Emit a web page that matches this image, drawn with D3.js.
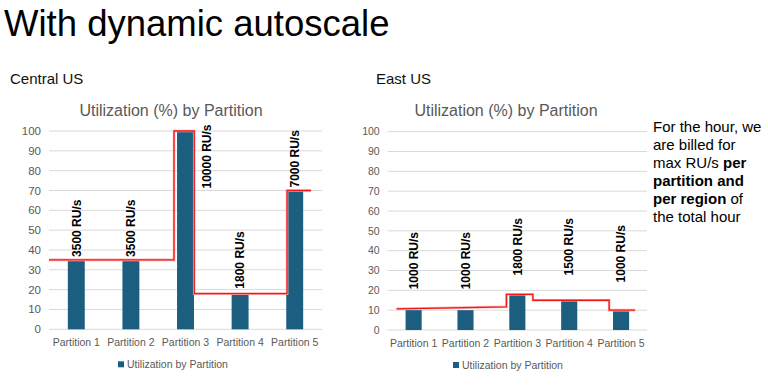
<!DOCTYPE html>
<html>
<head>
<meta charset="utf-8">
<script src="https://cdn.jsdelivr.net/npm/d3@7"></script>
<style>
  body { margin: 0; background: #fff; }
  text { font-family: "Liberation Sans", Arial, sans-serif; }
</style>
</head>
<body>
<script>
// data
var partitions = ["Partition 1", "Partition 2", "Partition 3", "Partition 4", "Partition 5"];
var yTicks = [0, 10, 20, 30, 40, 50, 60, 70, 80, 90, 100];

var centralUtil = [35, 35, 100, 18, 70];
var centralRU = ["3500 RU/s", "3500 RU/s", "10000 RU/s", "1800 RU/s", "7000 RU/s"];
var centralLabelAt = [36.5, 36.5, 71, 20.5, 71.5];
// max RU/s line: [partition position, utilization]
var centralMax = [[0, 35], [2.29, 35], [2.29, 100], [2.66, 100], [2.66, 18], [4.36, 18], [4.36, 70], [4.8, 70]];

var eastUtil = [10, 10, 18, 15, 10];
var eastRU = ["1000 RU/s", "1000 RU/s", "1800 RU/s", "1500 RU/s", "1000 RU/s"];
var eastLabelAt = [20.5, 20.5, 27.5, 27.5, 24];
var eastMax = [[0.17, 10.7], [2.29, 11.7], [2.29, 18], [2.8, 18], [2.8, 15], [4.27, 15], [4.27, 10], [4.77, 10]];

var svg = d3.select("body").append("svg").attr("width", 768).attr("height", 389);

svg.append("text").attr("x", 4).attr("y", 36)
  .style("font-size", "36.5px").style("fill", "#000")
  .text("With dynamic autoscale");

function drawChart(o) {
  var g = svg.append("g");
  var x = d3.scaleBand().domain(partitions).range([o.left, o.right])
    .paddingInner(0.69).paddingOuter(0.345);
  var xl = d3.scaleLinear().domain([0, 5]).range([o.left, o.right]);
  var y = d3.scaleLinear().domain([0, 100]).range([o.bottom, o.top]);

  g.append("text").attr("x", o.regionX).attr("y", 84)
    .style("font-size", "15px").style("fill", "#111").text(o.region);

  g.append("text").attr("x", o.titleX).attr("y", 116)
    .attr("text-anchor", "middle")
    .style("font-size", "16px").style("fill", "#595959")
    .text("Utilization (%) by Partition");

  // grid
  g.selectAll(".grid").data(yTicks).enter().append("line")
    .attr("x1", o.left).attr("x2", o.right)
    .attr("y1", function(d){ return y(d); }).attr("y2", function(d){ return y(d); })
    .style("stroke", "#d9d9d9").style("stroke-width", 1);

  g.selectAll(".ytick").data(yTicks).enter().append("text")
    .attr("x", o.left - 8).attr("y", function(d){ return y(d); })
    .attr("dy", "0.35em").attr("text-anchor", "end")
    .style("font-size", o.tickSize + "px").style("fill", "#595959")
    .text(function(d){ return d; });

  g.selectAll(".xtick").data(partitions).enter().append("text")
    .attr("x", function(d){ return x(d) + x.bandwidth() / 2; })
    .attr("y", o.bottom + 17)
    .attr("text-anchor", "middle")
    .style("font-size", "10.5px").style("fill", "#595959")
    .text(function(d){ return d; });

  g.selectAll(".bar").data(o.util).enter().append("rect")
    .attr("x", function(d, i){ return x(partitions[i]); })
    .attr("y", function(d){ return y(d); })
    .attr("width", x.bandwidth())
    .attr("height", function(d){ return y(0) - y(d); })
    .style("fill", "#1b5e80");

  // max RU/s line
  var line = d3.line().x(function(d){ return xl(d[0]); }).y(function(d){ return y(d[1]); });
  g.append("path").attr("d", line(o.max))
    .style("fill", "none").style("stroke", "#ffb0b0").style("stroke-width", 2.6);
  g.append("path").attr("d", line(o.max))
    .style("fill", "none").style("stroke", "#f01818").style("stroke-width", 1.3);

  // rotated RU/s labels
  g.selectAll(".lbl").data(o.ru).enter().append("text")
    .attr("transform", function(d, i){
      var cx = x(partitions[i]) + x.bandwidth() / 2;
      var v = o.labelAt[i];
      if (v < o.util[i]) cx = x(partitions[i]) + x.bandwidth() + 13;
      return "translate(" + cx + "," + y(v) + ") rotate(-90)";
    })
    .attr("dy", "0.35em")
    .style("font-size", "12px").style("font-weight", "bold").style("fill", "#000")
    .text(function(d){ return d; });

  // legend
  var lg = g.append("g");
  lg.append("rect").attr("x", o.legendX).attr("y", o.bottom + 32).attr("width", 6).attr("height", 6)
    .style("fill", "#1b5e80");
  lg.append("text").attr("x", o.legendX + 9).attr("y", o.bottom + 35).attr("dy", "0.35em")
    .style("font-size", "10.5px").style("fill", "#595959").text("Utilization by Partition");
}

drawChart({ region: "Central US", regionX: 10, titleX: 171, left: 49, right: 322, top: 131, bottom: 329.3,
  tickSize: 11.5, util: centralUtil, ru: centralRU, labelAt: centralLabelAt, max: centralMax, legendX: 118 });

drawChart({ region: "East US", regionX: 376, titleX: 506, left: 387.7, right: 647, top: 131.7, bottom: 330,
  tickSize: 10.5, util: eastUtil, ru: eastRU, labelAt: eastLabelAt, max: eastMax, legendX: 453 });

// side note
var note = svg.append("text").attr("x", 653).attr("y", 132).style("font-size", "15px").style("fill", "#000");
var noteLines = [
  [["For the hour, we", false]],
  [["are billed for", false]],
  [["max RU/s ", false], ["per", true]],
  [["partition and", true]],
  [["per region", true], [" of", false]],
  [["the total hour", false]]
];
noteLines.forEach(function(parts, i){
  parts.forEach(function(p, j){
    var t = note.append("tspan").text(p[0]).style("font-weight", p[1] ? "bold" : "normal");
    if (j === 0) t.attr("x", 653).attr("dy", i === 0 ? 0 : 18);
  });
});
</script>
</body>
</html>
